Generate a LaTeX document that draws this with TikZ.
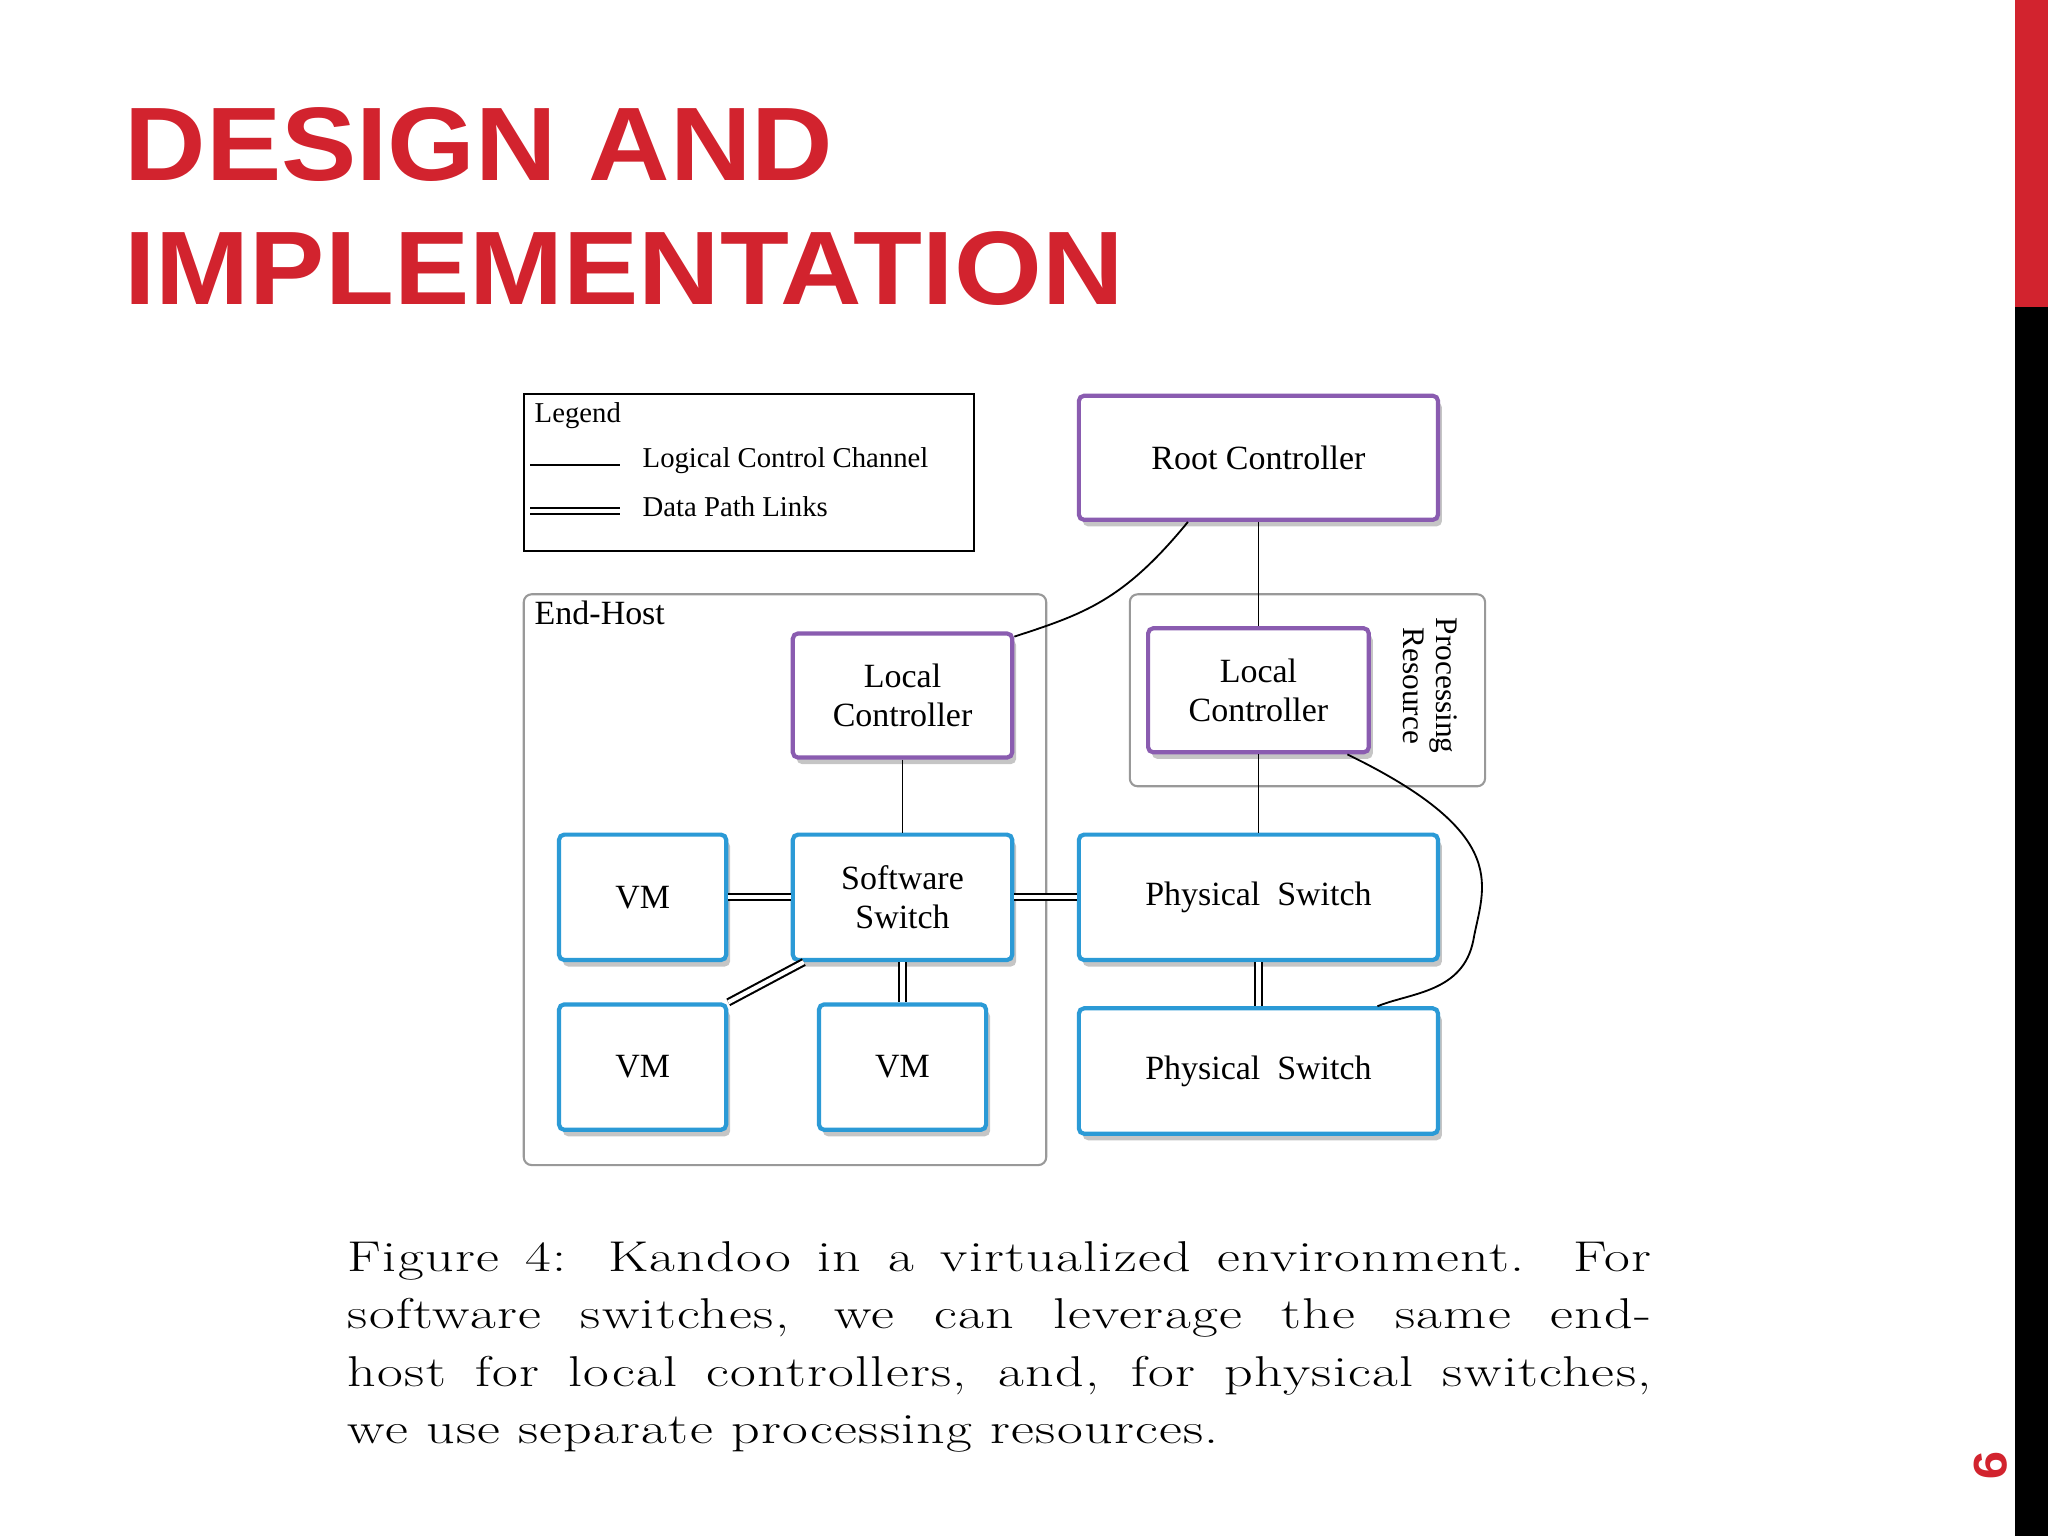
\documentclass[tikz,border=0pt]{standalone}
\usepackage{fontspec}
\newfontfamily\titlefont[FakeStretch=1.08]{Liberation Sans}
\newfontfamily\lblfont{Liberation Serif}
\newfontfamily\capfont[FakeStretch=1.3,LetterSpace=3]{Latin Modern Roman}
\usetikzlibrary{shadows}
\definecolor{tred}{HTML}{D2232E}
\definecolor{pur}{HTML}{8A5CB0}
\definecolor{blu}{HTML}{2B9AD6}
\tikzset{
 pbox/.style={draw=pur,line width=1.6pt,rounded corners=2pt,fill=white,drop shadow={shadow xshift=1.5pt,shadow yshift=-2.5pt,opacity=.45}},
 bbox/.style={draw=blu,line width=1.6pt,rounded corners=2pt,fill=white,drop shadow={shadow xshift=1.5pt,shadow yshift=-2.5pt,opacity=.45}},
 grp/.style={draw=gray!80,line width=0.8pt,rounded corners=3pt},
 lbl/.style={font=\lblfont\fontsize{13}{15}\selectfont,align=center},
 ctl/.style={line width=0.7pt},
 dp/.style={double=white,double distance=1.6pt,line width=0.8pt}
}
\newcommand\capline[1]{\makebox[499pt][s]{#1}}
\begin{document}
\begin{tikzpicture}[x=0.5pt,y=-0.5pt]
\useasboundingbox (0,0) rectangle (1568,1176);
\fill[white] (0,0) rectangle (1568,1176);
\fill[tred] (1543,0) rectangle (1568,235);
\fill[black] (1543,235) rectangle (1568,1176);
\node[anchor=base west,text=tred,font=\titlefont\bfseries\fontsize{40}{44}\selectfont,inner sep=0] (t1) at (95,138) {DESIGN AND};
\node[anchor=base west,text=tred,font=\titlefont\bfseries\fontsize{40}{44}\selectfont,inner sep=0] (t2) at (95,233) {IMPLEMENTATION};
\node[rotate=-90,text=tred,font=\titlefont\bfseries\fontsize{18}{20}\selectfont] (pg) at (1524,1122) {9};
% groups
\draw[grp] (401,455) rectangle (801,892);
\node[anchor=north west,lbl,inner sep=0] (eh) at (409,460) {End-Host};
\draw[grp] (865,455) rectangle (1137,602);
\node[rotate=-90,lbl,font=\lblfont\fontsize{12}{13}\selectfont] (pr) at (1095,525) {Processing\\Resource};
% legend
\draw[line width=0.8pt] (401,302) rectangle (746,422);
\node[anchor=north west,inner sep=0,font=\lblfont\fontsize{11}{13}\selectfont] (lg) at (409,308) {Legend};
\coordinate (l1a) at (406,356); \coordinate (l1b) at (475,356);
\draw[ctl] (l1a) -- (l1b);
\node[anchor=west,font=\lblfont\fontsize{11}{13}\selectfont] (lt1) at (485,353) {Logical Control Channel};
\coordinate (l2a) at (406,391); \coordinate (l2b) at (475,391);
\draw[dp] (l2a) -- (l2b);
\node[anchor=west,font=\lblfont\fontsize{11}{13}\selectfont] (lt2) at (485,388) {Data Path Links};
% nodes
\node[pbox,lbl,minimum width=137.5pt,minimum height=47.5pt] (root) at (963.5,350.5) {Root Controller};
\node[pbox,lbl,minimum width=84pt,minimum height=47.5pt] (lc1) at (691,532.5) {Local\\Controller};
\node[pbox,lbl,minimum width=84.5pt,minimum height=47.5pt] (lc2) at (963.5,528.5) {Local\\Controller};
\node[bbox,lbl,minimum width=64pt,minimum height=48pt] (vm1) at (492,687) {VM};
\node[bbox,lbl,minimum width=84pt,minimum height=48pt] (ss) at (691,687) {Software\\Switch};
\node[bbox,lbl,minimum width=137.5pt,minimum height=48pt] (ps1) at (963.5,687) {Physical\ \ Switch};
\node[bbox,lbl,minimum width=64pt,minimum height=48pt] (vm2) at (492,817) {VM};
\node[bbox,lbl,minimum width=64pt,minimum height=48pt] (vm3) at (691,817) {VM};
\node[bbox,lbl,minimum width=137.5pt,minimum height=48pt] (ps2) at (963.5,820) {Physical\ \ Switch};
% control
\draw[ctl] ([xshift=-27pt]root.south) .. controls (860,460) and (830,470) .. ([yshift=-2pt]lc1.north east);
\draw[ctl] (root) -- (lc2);
\draw[ctl] (lc1) -- (ss);
\draw[ctl] (lc2) -- (ps1);
\draw[ctl] ([xshift=-9pt]lc2.south east) .. controls (1160,640) and (1135,680) .. (1128,720) .. controls (1120,760) and (1080,760) .. ([xshift=-24pt]ps2.north east);
% data path
\draw[dp] (vm1) -- (ss);
\draw[dp] (ss) -- (ps1);
\draw[dp] (ss.south -| vm3) -- (vm3);
\draw[dp] (ps1) -- (ps2);
\draw[dp] ([xshift=5pt]ss.south west) -- (vm2.north east);
% caption
\node[anchor=north west,inner sep=0,align=left,font=\capfont\fontsize{16.5}{22}\selectfont] (cap) at (266,950) {\capline{Figure 4: Kandoo in a virtualized environment. For}\\ \capline{software switches, we can leverage the same end-}\\ \capline{host for local controllers, and, for physical switches,}\\ we use separate processing resources.};
\end{tikzpicture}
\end{document}
